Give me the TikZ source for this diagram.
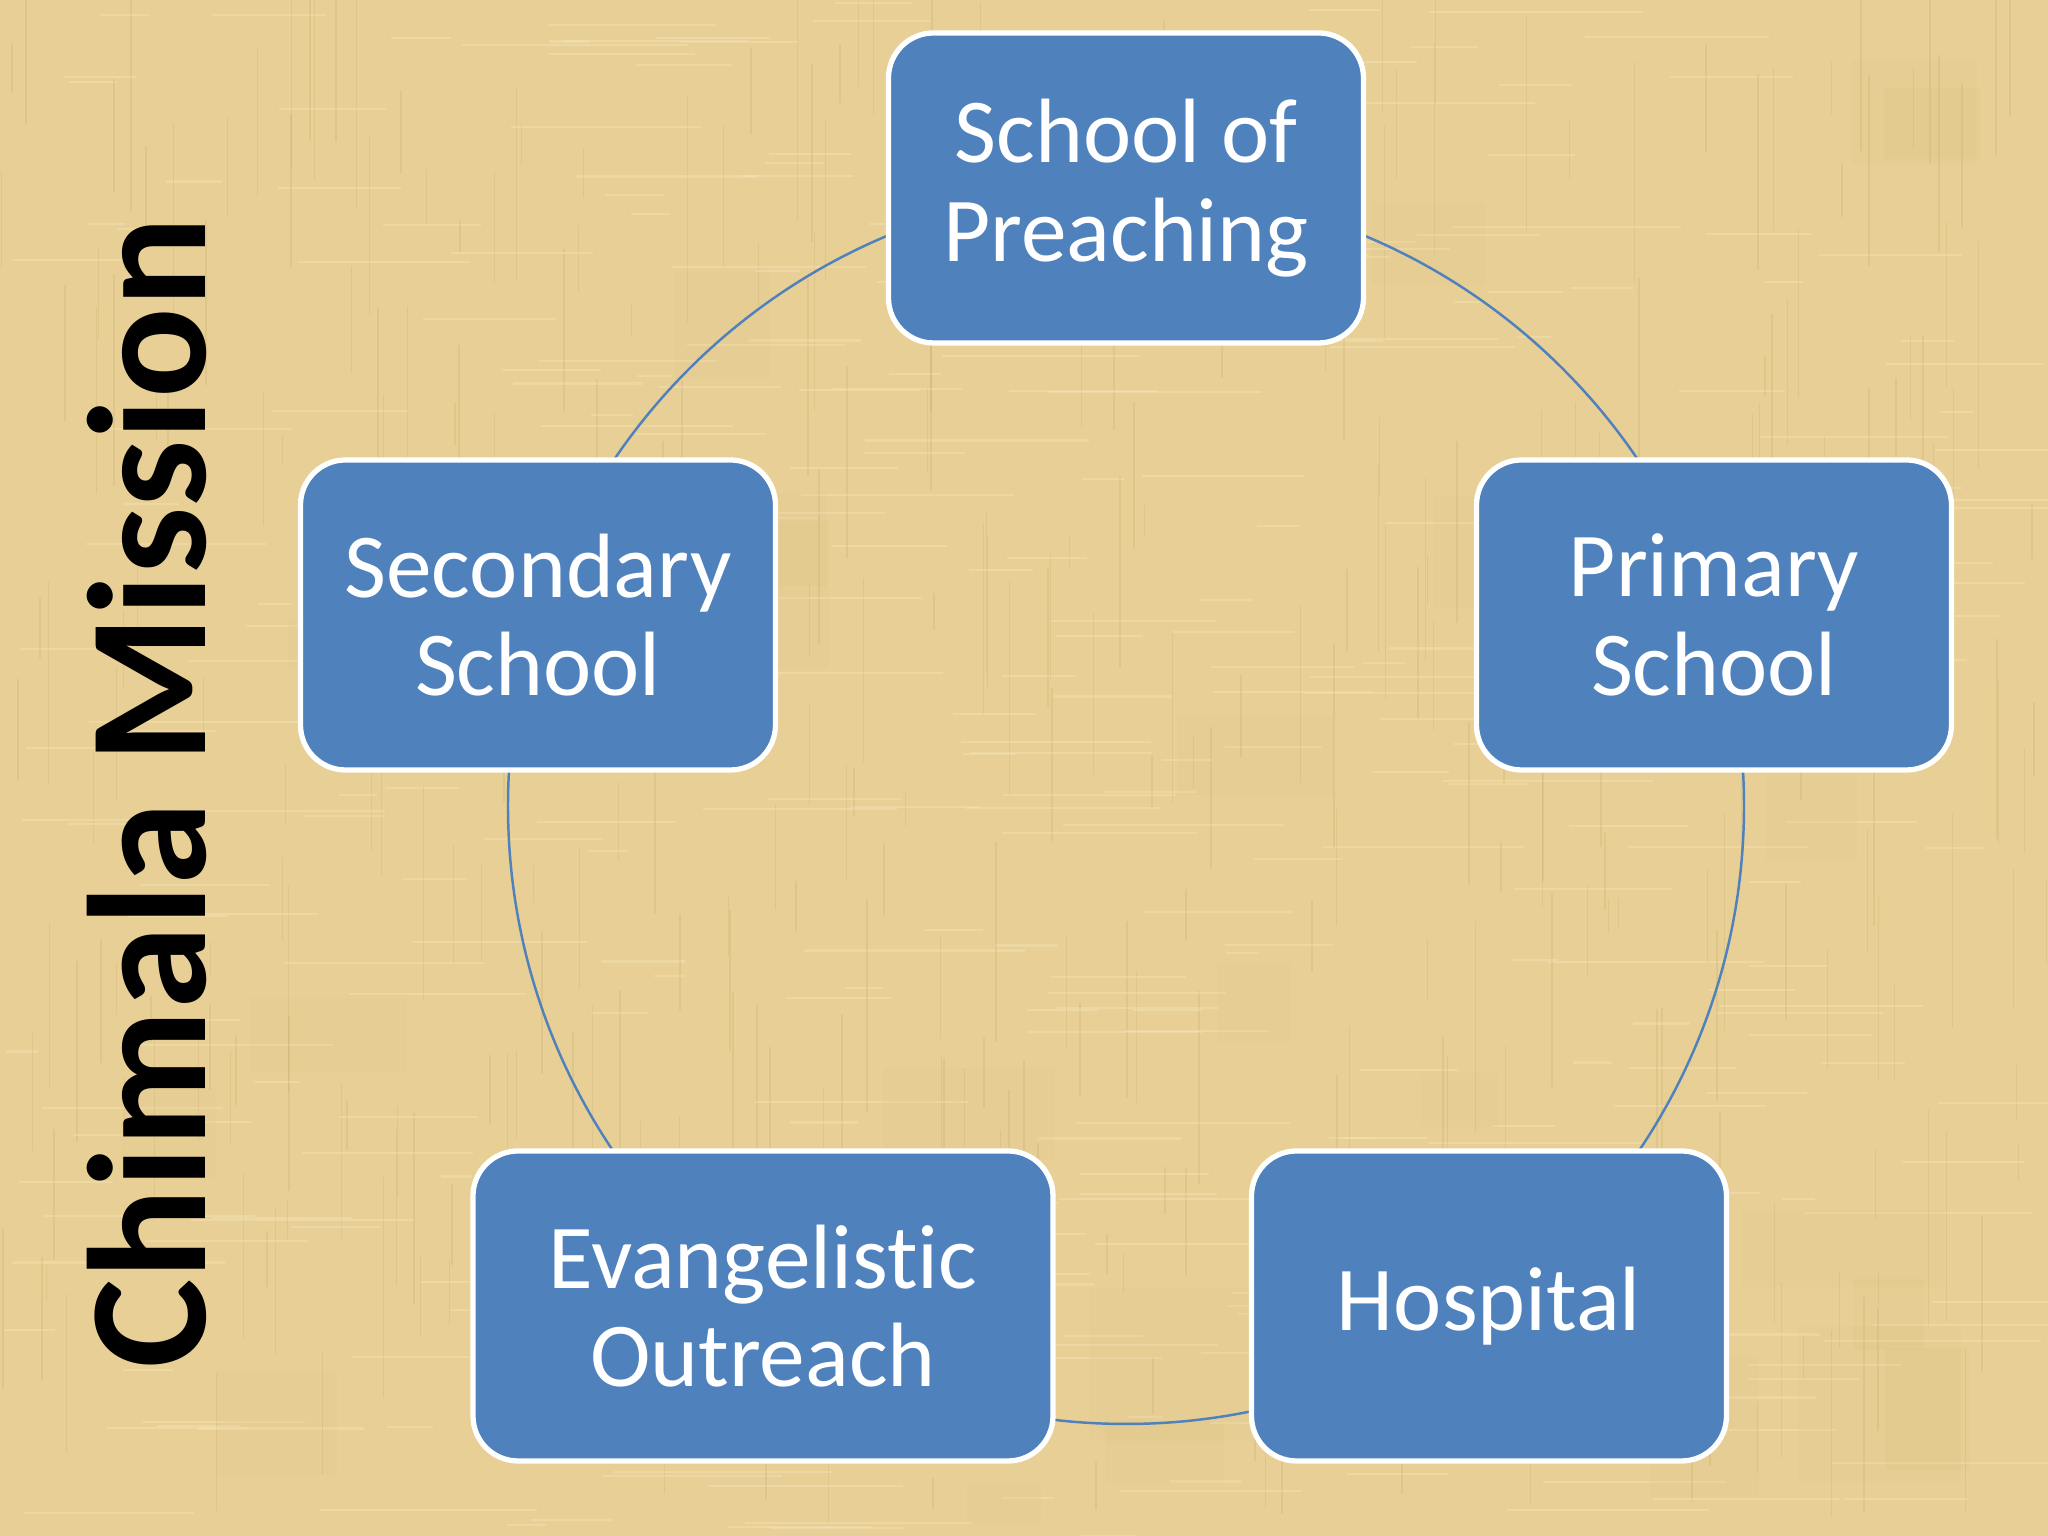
\documentclass[tikz,border=0pt]{standalone}
\usepackage{fontspec}
\setmainfont{Carlito}[Ligatures=NoCommon]
\usepackage{xcolor}
\usetikzlibrary{positioning}

\definecolor{paper}{RGB}{231,207,150}
\definecolor{paperdark}{RGB}{196,168,104}
\definecolor{paperlight}{RGB}{246,230,186}
\definecolor{boxblue}{RGB}{79,129,189}

\tikzset{
  unit/.style={draw=white,line width=1.5pt,fill=boxblue,rounded corners=0.45cm,
    minimum width=4.75cm,minimum height=3.1cm,align=center,text=white,
    font=\fontsize{26}{28}\selectfont,inner sep=2pt},
  ring/.style={draw=boxblue,line width=0.7pt}
}

\begin{document}
\begin{tikzpicture}
  % paper background
  \fill[paper] (0,0) rectangle (20.48,15.36);
  \useasboundingbox (0,0) rectangle (20.48,15.36);
  % woven texture
  \pgfmathsetseed{11}
  \foreach \i in {1,...,360}{
    \pgfmathsetmacro{\xa}{rnd*20.48}
    \pgfmathsetmacro{\ya}{rnd*14.5}
    \pgfmathsetmacro{\len}{0.3+rnd*2.0}
    \draw[paperdark,line width=0.4pt,opacity=0.25] (\xa,\ya) -- ++(0,\len);
    \pgfmathsetmacro{\xb}{rnd*19.5}
    \pgfmathsetmacro{\yb}{rnd*15.36}
    \draw[paperlight,line width=0.6pt,opacity=0.4] (\xb,\yb) -- ++(\len,0);
  }
  \foreach \i in {1,...,25}{
    \pgfmathsetmacro{\xa}{rnd*19}
    \pgfmathsetmacro{\ya}{rnd*14}
    \fill[paperdark,opacity=0.05] (\xa,\ya) rectangle ++(0.6+rnd*1.5,0.4+rnd*1.2);
  }

  % title
  \node[rotate=90,font=\bfseries\fontsize{48}{56}\selectfont] (title) at (1.47,7.43) {Chimala Mission};

  % ring behind the units
  \coordinate (hub) at (11.26,7.30);
  \draw[ring] (hub) circle (6.18);

  % units round the ring
  \node[unit] (preach) at (11.26,13.48) {School of\\Preaching};
  \node[unit] (primary) at (17.14,9.21) {Primary\\School};
  \node[unit] (hospital) at (14.89,2.30) {Hospital};
  \node[unit,minimum width=5.8cm] (outreach) at (7.63,2.30) {Evangelistic\\Outreach};
  \node[unit] (second) at (5.38,9.21) {Secondary\\School};
\end{tikzpicture}
\end{document}
